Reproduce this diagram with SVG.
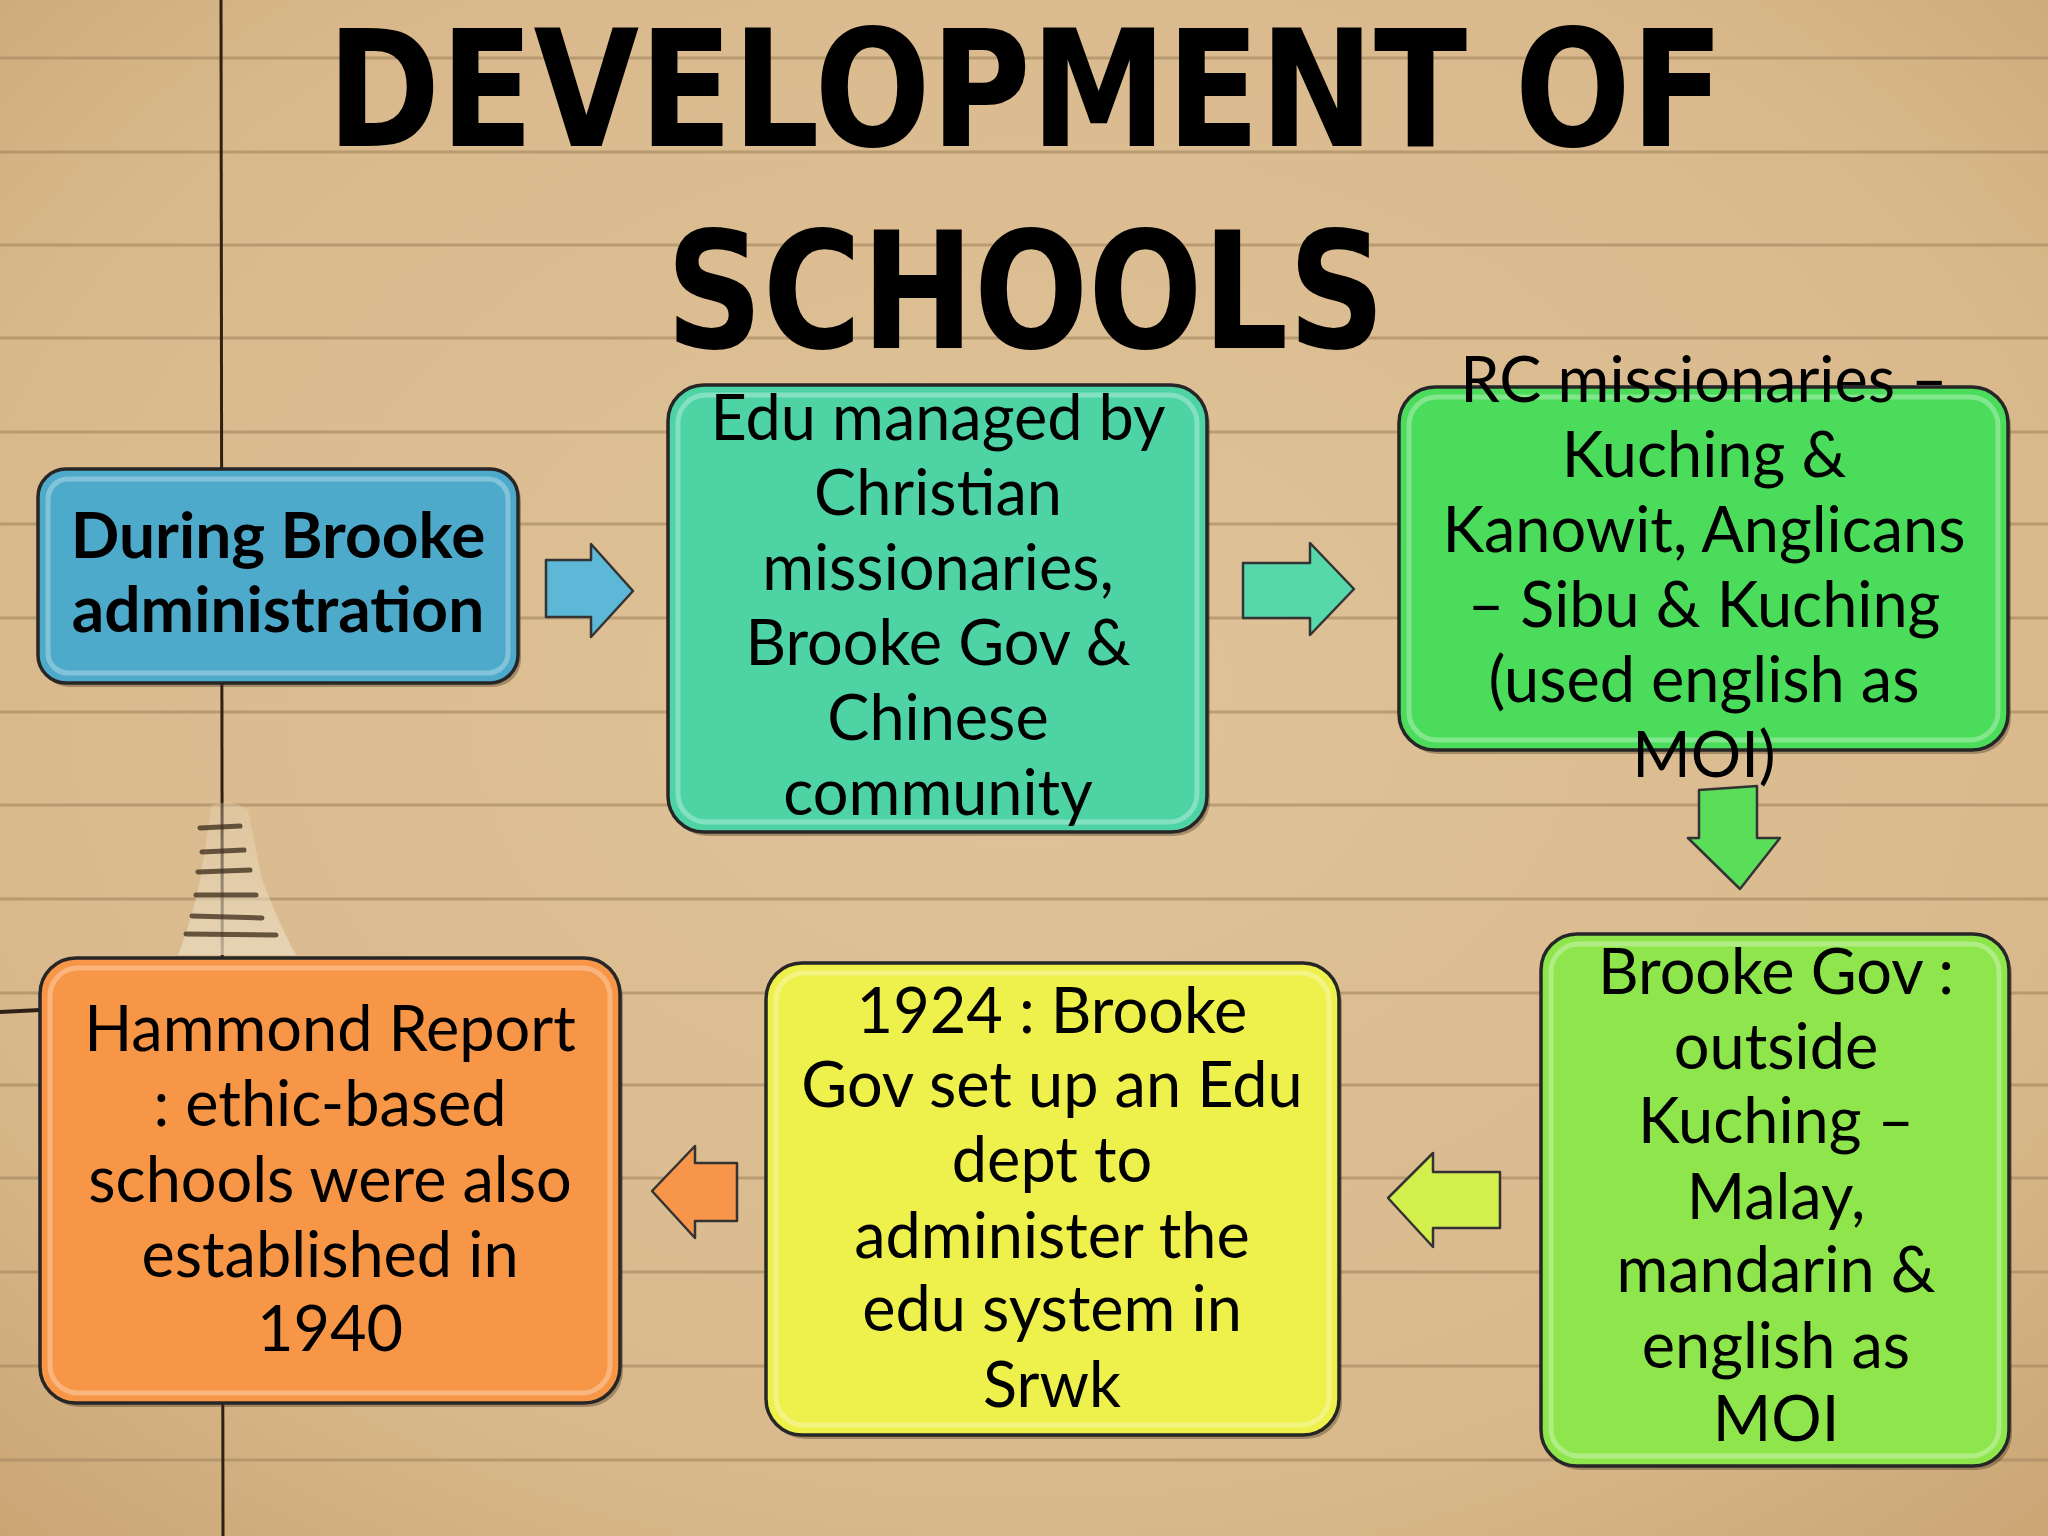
<svg xmlns="http://www.w3.org/2000/svg" width="2048" height="1536" viewBox="0 0 2048 1536">
  <defs>
    <radialGradient id="paper" cx="50%" cy="45%" r="75%">
      <stop offset="0" stop-color="#e0c39a"/>
      <stop offset="0.7" stop-color="#d9b98c"/>
      <stop offset="1" stop-color="#caa574"/>
    </radialGradient>
    <linearGradient id="tear" x1="0" y1="0" x2="0" y2="1">
      <stop offset="0" stop-color="#eadbbf" stop-opacity="0.3"/>
      <stop offset="1" stop-color="#eadbbf" stop-opacity="0.75"/>
    </linearGradient>
    <style>
      .rule { stroke: #a88a62; stroke-width: 3; opacity: 0.65; }
      .box { stroke: #262626; stroke-width: 3.5; }
      .gloss { fill: none; stroke: #ffffff; stroke-opacity: 0.3; stroke-width: 5; }
      .shadow { fill: #3a2a18; opacity: 0.35; }
      .txt { font-family: Lato, "Open Sans", "Liberation Sans", sans-serif; font-size: 63px; fill: #000; text-anchor: middle; }
      .bold { font-weight: bold; font-size: 64px; }
      .title { font-family: "DejaVu Sans", "Liberation Sans", sans-serif; font-weight: bold; font-size: 162px; fill: #000; }
      .arrow { stroke: #333; stroke-width: 2.5; stroke-linejoin: round; }
    </style>
  </defs>

  <!-- background paper -->
  <rect x="0" y="0" width="2048" height="1536" fill="url(#paper)"/>
  <g id="ruling">
    <line class="rule" x1="0" y1="58" x2="2048" y2="58"/>
    <line class="rule" x1="0" y1="152" x2="2048" y2="152"/>
    <line class="rule" x1="0" y1="245" x2="2048" y2="245"/>
    <line class="rule" x1="0" y1="338" x2="2048" y2="338"/>
    <line class="rule" x1="0" y1="432" x2="2048" y2="432"/>
    <line class="rule" x1="0" y1="524" x2="2048" y2="524"/>
    <line class="rule" x1="0" y1="618" x2="2048" y2="618"/>
    <line class="rule" x1="0" y1="712" x2="2048" y2="712"/>
    <line class="rule" x1="0" y1="805" x2="2048" y2="805"/>
    <line class="rule" x1="0" y1="899" x2="2048" y2="899"/>
    <line class="rule" x1="0" y1="993" x2="2048" y2="993"/>
    <line class="rule" x1="0" y1="1085" x2="2048" y2="1085"/>
    <line class="rule" x1="0" y1="1178" x2="2048" y2="1178"/>
    <line class="rule" x1="0" y1="1272" x2="2048" y2="1272"/>
    <line class="rule" x1="0" y1="1366" x2="2048" y2="1366"/>
    <line class="rule" x1="0" y1="1460" x2="2048" y2="1460"/>
    <line x1="221" y1="0" x2="223" y2="1536" stroke="#2e2014" stroke-width="3"/>
    <line x1="0" y1="1012" x2="40" y2="1010" stroke="#2e2014" stroke-width="4"/>
    <!-- stitched tear -->
    <path d="M212 805 Q232 798 248 810 L262 880 Q282 930 296 955 L178 955 Q192 920 200 880 Z" fill="url(#tear)"/>
    <g stroke="#3b2a18" stroke-width="5" opacity="0.75" stroke-linecap="round">
      <line x1="200" y1="828" x2="240" y2="826"/>
      <line x1="202" y1="852" x2="244" y2="850"/>
      <line x1="198" y1="872" x2="250" y2="870"/>
      <line x1="196" y1="895" x2="256" y2="895"/>
      <line x1="192" y1="916" x2="262" y2="918"/>
      <line x1="186" y1="934" x2="276" y2="935"/>
    </g>
  </g>

  <!-- title -->
  <g id="title">
    <text class="title" x="327" y="146" textLength="1397" lengthAdjust="spacingAndGlyphs">DEVELOPMENT OF</text>
    <text class="title" x="666" y="348" textLength="719" lengthAdjust="spacingAndGlyphs">SCHOOLS</text>
  </g>

  <!-- connectors -->
  <g id="connectors">
    <polygon class="arrow" fill="#5db7d6" points="546,560 591,560 591,544 633,591 591,637 591,617 546,617"/>
    <polygon class="arrow" fill="#56d8ab" points="1243,563 1310,563 1310,543 1354,589 1310,635 1310,618 1243,618"/>
    <polygon class="arrow" fill="#5ade5a" points="1699,790 1757,786 1757,838 1780,838 1740,889 1688,838 1699,838"/>
    <polygon class="arrow" fill="#d3ef4c" points="1388,1198 1433,1153 1433,1172 1500,1172 1500,1228 1433,1228 1433,1247"/>
    <polygon class="arrow" fill="#f7964a" points="652,1191 695,1146 695,1163 737,1163 737,1221 695,1221 695,1238"/>
  </g>

  <!-- nodes -->
  <g id="node-brooke">
    <rect class="shadow" x="41" y="473" width="480" height="214" rx="28"/>
    <rect class="box" x="38" y="469" width="480" height="214" rx="28" fill="#4eaacb"/>
    <rect class="gloss" x="48" y="479" width="460" height="194" rx="20"/>
    <text class="txt bold" x="278" y="558">During Brooke</text>
    <text class="txt bold" x="278" y="632">administration</text>
  </g>

  <g id="node-edu">
    <rect class="shadow" x="671" y="389" width="539" height="447" rx="36"/>
    <rect class="box" x="668" y="385" width="539" height="447" rx="36" fill="#4ed3a5"/>
    <rect class="gloss" x="678" y="395" width="519" height="427" rx="28"/>
    <text class="txt" x="938" y="440">Edu managed by</text>
    <text class="txt" x="938" y="515">Christian</text>
    <text class="txt" x="938" y="590">missionaries,</text>
    <text class="txt" x="938" y="665">Brooke Gov &amp;</text>
    <text class="txt" x="938" y="740">Chinese</text>
    <text class="txt" x="938" y="815">community</text>
  </g>

  <g id="node-rc">
    <rect class="shadow" x="1402" y="391" width="609" height="363" rx="36"/>
    <rect class="box" x="1399" y="387" width="609" height="363" rx="36" fill="#4cdc5c"/>
    <rect class="gloss" x="1409" y="397" width="589" height="343" rx="28"/>
    <text class="txt" x="1704" y="402">RC missionaries –</text>
    <text class="txt" x="1704" y="477">Kuching &amp;</text>
    <text class="txt" x="1704" y="552">Kanowit, Anglicans</text>
    <text class="txt" x="1704" y="627">– Sibu &amp; Kuching</text>
    <text class="txt" x="1704" y="702">(used english as</text>
    <text class="txt" x="1704" y="777">MOI)</text>
  </g>

  <g id="node-outside">
    <rect class="shadow" x="1544" y="938" width="468" height="532" rx="36"/>
    <rect class="box" x="1541" y="934" width="468" height="532" rx="36" fill="#8ee64c"/>
    <rect class="gloss" x="1551" y="944" width="448" height="512" rx="28"/>
    <text class="txt" x="1776" y="994">Brooke Gov :</text>
    <text class="txt" x="1776" y="1069">outside</text>
    <text class="txt" x="1776" y="1143">Kuching –</text>
    <text class="txt" x="1776" y="1219">Malay,</text>
    <text class="txt" x="1776" y="1292">mandarin &amp;</text>
    <text class="txt" x="1776" y="1368">english as</text>
    <text class="txt" x="1776" y="1441">MOI</text>
  </g>

  <g id="node-1924">
    <rect class="shadow" x="769" y="967" width="573" height="472" rx="36"/>
    <rect class="box" x="766" y="963" width="573" height="472" rx="36" fill="#eef04c"/>
    <rect class="gloss" x="776" y="973" width="553" height="452" rx="28"/>
    <text class="txt" x="1052" y="1033">1924 : Brooke</text>
    <text class="txt" x="1052" y="1107">Gov set up an Edu</text>
    <text class="txt" x="1052" y="1182">dept to</text>
    <text class="txt" x="1052" y="1258">administer the</text>
    <text class="txt" x="1052" y="1331">edu system in</text>
    <text class="txt" x="1052" y="1407">Srwk</text>
  </g>

  <g id="node-hammond">
    <rect class="shadow" x="43" y="962" width="580" height="445" rx="36"/>
    <rect class="box" x="40" y="958" width="580" height="445" rx="36" fill="#f79646"/>
    <rect class="gloss" x="50" y="968" width="560" height="425" rx="28"/>
    <text class="txt" x="330" y="1051">Hammond Report</text>
    <text class="txt" x="330" y="1126">: ethic-based</text>
    <text class="txt" x="330" y="1202">schools were also</text>
    <text class="txt" x="330" y="1277">established in</text>
    <text class="txt" x="330" y="1351">1940</text>
  </g>
</svg>
